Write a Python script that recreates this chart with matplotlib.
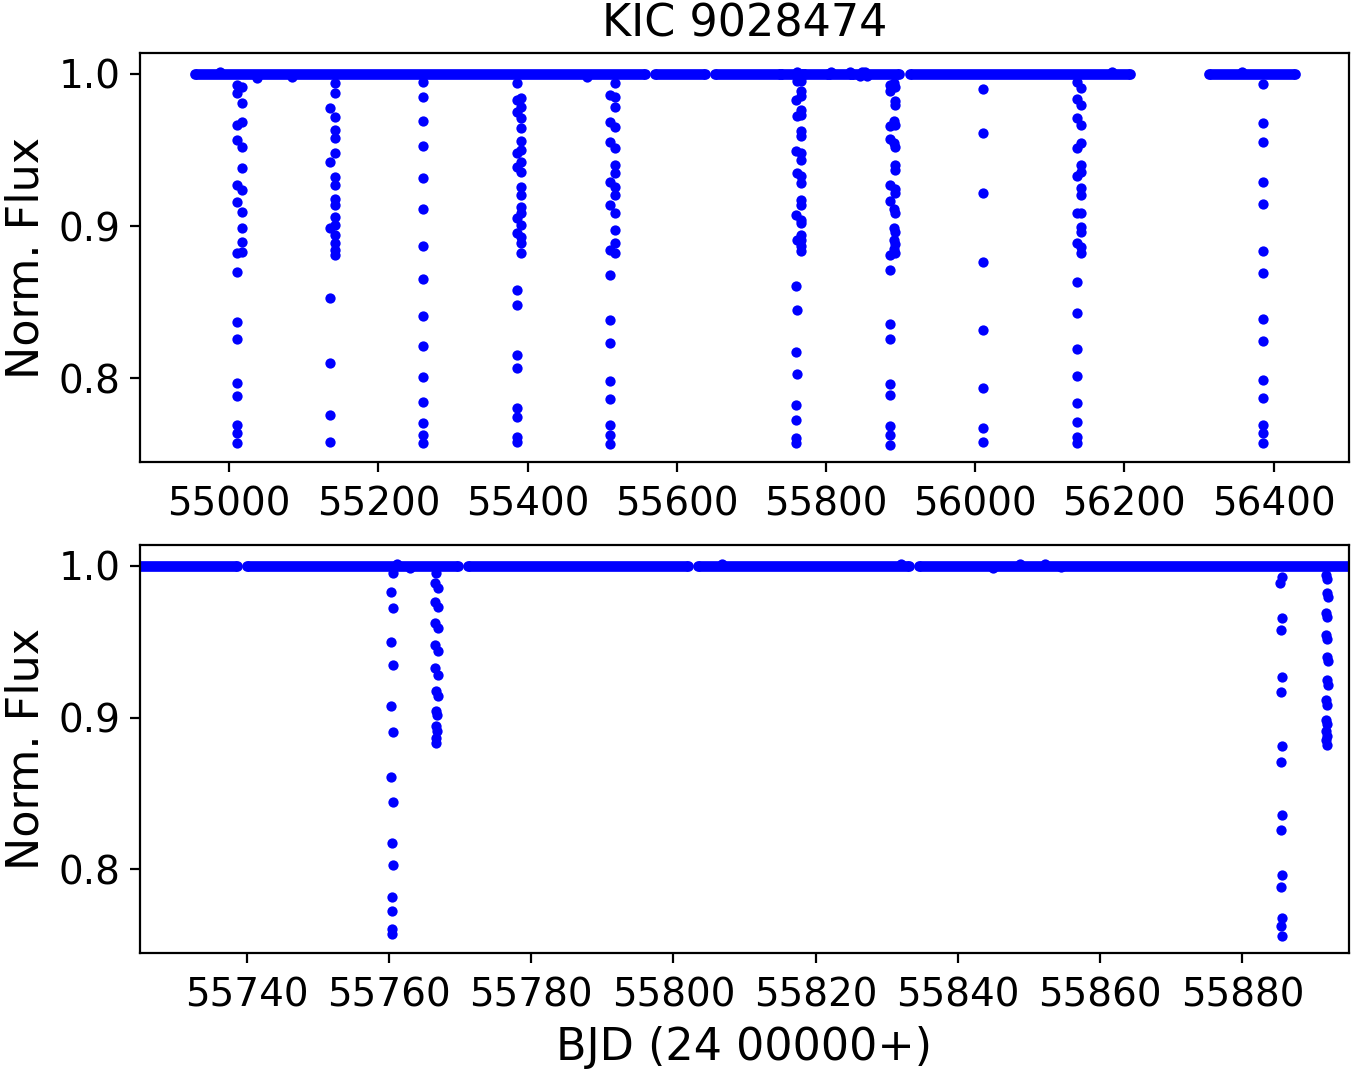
import matplotlib
matplotlib.use("Agg")
import matplotlib.pyplot as plt
import numpy as np

# ---- data ----
# continuous out-of-eclipse coverage (flux ~1.0), start / end of each stretch
base_start = [54954.6, 55571.0, 55651.8, 55740.1, 55771.1, 55803.5, 55834.6, 55912.8, 56313.0]
base_end = [55557.0, 55637.5, 55738.65, 55769.65, 55802.05, 55833.15, 55898.5, 56206.9, 56428.0]

# a few stray out-of-eclipse points
out_t = [54988.0, 55036.7, 55083.6, 55479.0, 55761.2, 55762.9, 55806.9, 55832.0,
         55845.0, 55848.8, 55852.3, 55854.5, 56183.0, 56357.0]
out_f = [1.0015, 0.9972, 0.998, 0.998, 1.0015, 0.9987, 1.0015, 1.0015,
         0.9985, 1.0016, 1.0015, 0.999, 1.001, 1.001]

# primary eclipses (one column each at full-range scale)
prim_t = [55010.4, 55135.4, 55260.4, 55385.4, 55510.4, 56010.4, 56136.3, 56385.6]
prim_f = [
    [0.9928, 0.9873, 0.9664, 0.9566, 0.927, 0.916, 0.882, 0.870, 0.837, 0.826, 0.797, 0.788, 0.769, 0.7636, 0.757],
    [0.9774, 0.9423, 0.8985, 0.8524, 0.8097, 0.776, 0.7577],
    [0.9945, 0.9851, 0.9693, 0.9526, 0.9318, 0.911, 0.8868, 0.8649, 0.841, 0.8211, 0.8004, 0.7844, 0.7706, 0.7625, 0.757],
    [0.9939, 0.9829, 0.9752, 0.9478, 0.939, 0.905, 0.8952, 0.8579, 0.848, 0.8151, 0.8064, 0.78, 0.7746, 0.7614, 0.7581],
    [0.9862, 0.9686, 0.9555, 0.9292, 0.9138, 0.8842, 0.8678, 0.8382, 0.8232, 0.798, 0.7862, 0.7691, 0.7625, 0.7565],
    [0.9899, 0.9614, 0.922, 0.8766, 0.8316, 0.7932, 0.7669, 0.7577],
    [0.995, 0.9833, 0.9708, 0.9511, 0.9329, 0.9088, 0.8886, 0.863, 0.8425, 0.8189, 0.8013, 0.7833, 0.7713, 0.7614, 0.757],
    [0.9932, 0.9675, 0.9555, 0.9287, 0.9143, 0.8838, 0.8689, 0.8388, 0.8243, 0.7987, 0.7871, 0.7691, 0.7636, 0.757],
]

# secondary eclipses
sec_t = [55016.7, 55141.7, 55391.7, 55516.7, 56141.6]
sec_f = [
    [0.9917, 0.9807, 0.9686, 0.952, 0.938, 0.9237, 0.9094, 0.8985, 0.8897, 0.883],
    [0.9939, 0.9877, 0.9719, 0.963, 0.9577, 0.9478, 0.9325, 0.927, 0.918, 0.9138, 0.906, 0.9007, 0.894, 0.8886, 0.884, 0.8809],
    [0.984, 0.9785, 0.9708, 0.9643, 0.9561, 0.95, 0.9423, 0.9357, 0.9259, 0.9204, 0.9127, 0.9083, 0.9007, 0.893, 0.8886, 0.882],
    [0.9939, 0.9851, 0.9785, 0.9654, 0.9511, 0.9401, 0.9346, 0.9259, 0.9204, 0.9083, 0.8974, 0.8886, 0.882],
    [0.9906, 0.9796, 0.9664, 0.9544, 0.9401, 0.9357, 0.9248, 0.9204, 0.9083, 0.8996, 0.8963, 0.8864, 0.882],
]

# the four eclipses in the zoomed window, point by point
p1_t = [55760.52, 55760.28, 55760.52, 55760.28, 55760.52, 55760.28, 55760.52, 55760.28,
        55760.52, 55760.40, 55760.52, 55760.40, 55760.40, 55760.40, 55760.40]
p1_f = [0.9952, 0.9831, 0.9722, 0.9496, 0.9349, 0.9074, 0.8906, 0.8607,
        0.8445, 0.8173, 0.8028, 0.782, 0.7726, 0.7605, 0.7572]
s1_t = [55766.61, 55766.47, 55766.84, 55766.47, 55766.84, 55766.47, 55766.84, 55766.47, 55766.84,
        55766.47, 55766.84, 55766.61, 55766.84, 55766.61, 55766.75, 55766.61, 55766.75, 55766.65, 55766.65]
s1_f = [0.9952, 0.9886, 0.9853, 0.9765, 0.9732, 0.9623, 0.959, 0.948, 0.9436,
        0.9327, 0.9283, 0.9173, 0.914, 0.9041, 0.902, 0.8943, 0.891, 0.8866, 0.8833]
p2_t = [55885.60, 55885.27, 55885.60, 55885.37, 55885.60, 55885.37, 55885.51, 55885.37,
        55885.51, 55885.37, 55885.51, 55885.37, 55885.51, 55885.37, 55885.51]
p2_f = [0.993, 0.9886, 0.9656, 0.9575, 0.9268, 0.9167, 0.8811, 0.8708,
        0.8355, 0.8259, 0.7963, 0.7886, 0.7682, 0.7627, 0.7561]
s2_t = [55891.70, 55891.85, 55891.85, 55891.98, 55891.70, 55891.85, 55891.70, 55891.85, 55891.85, 55891.98,
        55891.85, 55891.98, 55891.70, 55891.85, 55891.70, 55891.85, 55891.70, 55891.85, 55891.70, 55891.85]
s2_f = [0.9941, 0.9912, 0.982, 0.9794, 0.9689, 0.9662, 0.9546, 0.9518, 0.9399, 0.937,
        0.9246, 0.9217, 0.9114, 0.9086, 0.8987, 0.8961, 0.891, 0.8882, 0.8851, 0.8822]

dot_col = "blue"
ms = 3.7
band_w = 3.85


def draw_curve(ax):
    # out-of-eclipse stretches, drawn as a dense row of dots (round ends via end markers)
    for t0, t1 in zip(base_start, base_end):
        ax.plot([t0, t1], [1.0, 1.0], "-o", color=dot_col, lw=band_w, ms=band_w, mew=0,
                solid_capstyle="butt")
    ax.plot(out_t, out_f, "o", color=dot_col, ms=ms, mew=0)
    for t, fl in zip(prim_t, prim_f):
        ax.plot([t] * len(fl), fl, "o", color=dot_col, ms=ms, mew=0)
    for t, fl in zip(sec_t, sec_f):
        ax.plot([t] * len(fl), fl, "o", color=dot_col, ms=ms, mew=0)
    for tt, ff in [(p1_t, p1_f), (s1_t, s1_f), (p2_t, p2_f), (s2_t, s2_f)]:
        ax.plot(tt, ff, "o", color=dot_col, ms=ms, mew=0)


fig = plt.figure(figsize=(6.755, 5.35), dpi=200)
W, H = 1351, 1070
ax1 = fig.add_axes([140 / W, 1 - 462 / H, 1209 / W, 409 / H])
ax2 = fig.add_axes([140 / W, 1 - 953 / H, 1209 / W, 408 / H])

for ax in (ax1, ax2):
    draw_curve(ax)
    ax.set_ylim(0.7448, 1.0138)
    ax.set_yticks([0.8, 0.9, 1.0])
    ax.set_ylabel("Norm. Flux", fontsize=16)
    ax.tick_params(labelsize=14)
    ax.tick_params(axis="x", pad=5)

ax1.set_xlim(54880.5, 56501)
ax1.set_xticks(np.arange(55000, 56401, 200))
ax1.set_title("KIC 9028474", fontsize=16)

ax2.set_xlim(55725, 55895)
ax2.set_xticks(np.arange(55740, 55881, 20))
ax2.set_xlabel("BJD (24 00000+)", fontsize=16)

fig.savefig("out.png", dpi=200)
